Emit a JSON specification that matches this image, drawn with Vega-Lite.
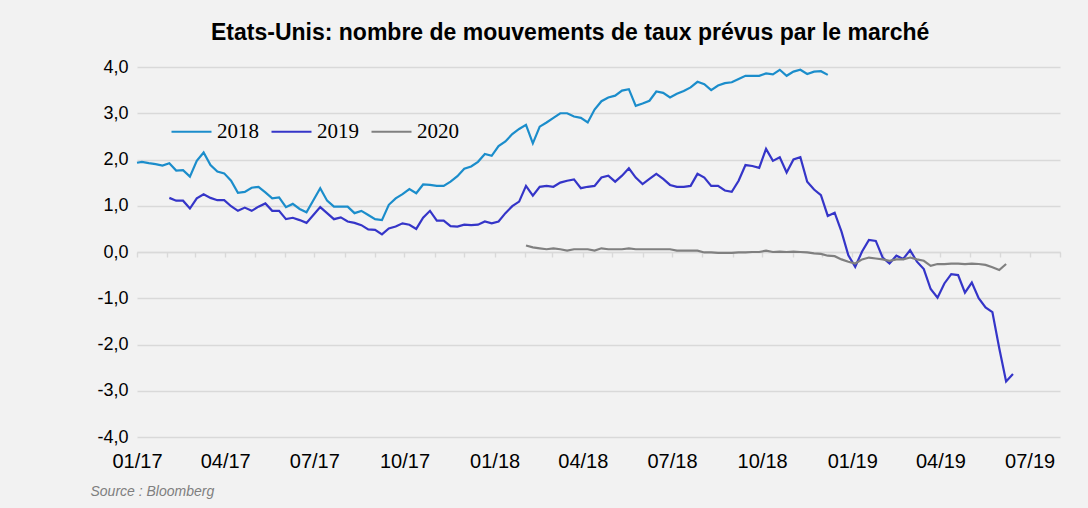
{
  "$schema": "https://vega.github.io/schema/vega-lite/v6.json",
  "width": 923,
  "height": 370,
  "autosize": "none",
  "padding": {"left": 137, "top": 67, "right": 28, "bottom": 71},
  "background": "#f2f2f2",
  "config": {
    "view": {"stroke": null},
    "font": "Liberation Sans",
    "axis": {"labelFont": "Liberation Sans", "labelColor": "#000000", "titleFont": "Liberation Sans"}
  },
  "title": {
    "text": "Etats-Unis: nombre de mouvements de taux prévus par le marché",
    "font": "Liberation Sans",
    "fontSize": 23,
    "fontWeight": "bold",
    "color": "#000000",
    "anchor": "start",
    "frame": "group",
    "dx": 74,
    "offset": 13
  },
  "data": {
    "values": [
      {"date": "2017-01-01", "value": 1.93, "series": "2018"},
      {"date": "2017-01-06", "value": 1.95, "series": "2018"},
      {"date": "2017-01-13", "value": 1.92, "series": "2018"},
      {"date": "2017-01-20", "value": 1.90, "series": "2018"},
      {"date": "2017-01-27", "value": 1.87, "series": "2018"},
      {"date": "2017-02-03", "value": 1.92, "series": "2018"},
      {"date": "2017-02-10", "value": 1.76, "series": "2018"},
      {"date": "2017-02-17", "value": 1.77, "series": "2018"},
      {"date": "2017-02-24", "value": 1.63, "series": "2018"},
      {"date": "2017-03-03", "value": 1.97, "series": "2018"},
      {"date": "2017-03-10", "value": 2.15, "series": "2018"},
      {"date": "2017-03-17", "value": 1.88, "series": "2018"},
      {"date": "2017-03-24", "value": 1.74, "series": "2018"},
      {"date": "2017-03-31", "value": 1.70, "series": "2018"},
      {"date": "2017-04-07", "value": 1.54, "series": "2018"},
      {"date": "2017-04-14", "value": 1.28, "series": "2018"},
      {"date": "2017-04-21", "value": 1.30, "series": "2018"},
      {"date": "2017-04-28", "value": 1.39, "series": "2018"},
      {"date": "2017-05-05", "value": 1.41, "series": "2018"},
      {"date": "2017-05-12", "value": 1.29, "series": "2018"},
      {"date": "2017-05-19", "value": 1.16, "series": "2018"},
      {"date": "2017-05-26", "value": 1.18, "series": "2018"},
      {"date": "2017-06-02", "value": 0.97, "series": "2018"},
      {"date": "2017-06-09", "value": 1.04, "series": "2018"},
      {"date": "2017-06-16", "value": 0.93, "series": "2018"},
      {"date": "2017-06-23", "value": 0.86, "series": "2018"},
      {"date": "2017-06-30", "value": 1.12, "series": "2018"},
      {"date": "2017-07-07", "value": 1.38, "series": "2018"},
      {"date": "2017-07-14", "value": 1.11, "series": "2018"},
      {"date": "2017-07-21", "value": 0.98, "series": "2018"},
      {"date": "2017-07-28", "value": 0.98, "series": "2018"},
      {"date": "2017-08-04", "value": 0.98, "series": "2018"},
      {"date": "2017-08-11", "value": 0.84, "series": "2018"},
      {"date": "2017-08-18", "value": 0.89, "series": "2018"},
      {"date": "2017-08-25", "value": 0.80, "series": "2018"},
      {"date": "2017-09-01", "value": 0.71, "series": "2018"},
      {"date": "2017-09-08", "value": 0.69, "series": "2018"},
      {"date": "2017-09-15", "value": 1.02, "series": "2018"},
      {"date": "2017-09-22", "value": 1.16, "series": "2018"},
      {"date": "2017-09-29", "value": 1.25, "series": "2018"},
      {"date": "2017-10-06", "value": 1.36, "series": "2018"},
      {"date": "2017-10-13", "value": 1.27, "series": "2018"},
      {"date": "2017-10-20", "value": 1.46, "series": "2018"},
      {"date": "2017-10-27", "value": 1.45, "series": "2018"},
      {"date": "2017-11-03", "value": 1.43, "series": "2018"},
      {"date": "2017-11-10", "value": 1.43, "series": "2018"},
      {"date": "2017-11-17", "value": 1.52, "series": "2018"},
      {"date": "2017-11-24", "value": 1.64, "series": "2018"},
      {"date": "2017-12-01", "value": 1.80, "series": "2018"},
      {"date": "2017-12-08", "value": 1.85, "series": "2018"},
      {"date": "2017-12-15", "value": 1.95, "series": "2018"},
      {"date": "2017-12-22", "value": 2.12, "series": "2018"},
      {"date": "2017-12-29", "value": 2.08, "series": "2018"},
      {"date": "2018-01-05", "value": 2.29, "series": "2018"},
      {"date": "2018-01-12", "value": 2.39, "series": "2018"},
      {"date": "2018-01-19", "value": 2.55, "series": "2018"},
      {"date": "2018-01-26", "value": 2.66, "series": "2018"},
      {"date": "2018-02-02", "value": 2.75, "series": "2018"},
      {"date": "2018-02-09", "value": 2.35, "series": "2018"},
      {"date": "2018-02-16", "value": 2.71, "series": "2018"},
      {"date": "2018-02-23", "value": 2.80, "series": "2018"},
      {"date": "2018-03-02", "value": 2.90, "series": "2018"},
      {"date": "2018-03-09", "value": 3.00, "series": "2018"},
      {"date": "2018-03-16", "value": 3.00, "series": "2018"},
      {"date": "2018-03-23", "value": 2.93, "series": "2018"},
      {"date": "2018-03-30", "value": 2.90, "series": "2018"},
      {"date": "2018-04-06", "value": 2.80, "series": "2018"},
      {"date": "2018-04-13", "value": 3.08, "series": "2018"},
      {"date": "2018-04-20", "value": 3.26, "series": "2018"},
      {"date": "2018-04-27", "value": 3.34, "series": "2018"},
      {"date": "2018-05-04", "value": 3.38, "series": "2018"},
      {"date": "2018-05-11", "value": 3.49, "series": "2018"},
      {"date": "2018-05-18", "value": 3.52, "series": "2018"},
      {"date": "2018-05-25", "value": 3.16, "series": "2018"},
      {"date": "2018-06-01", "value": 3.21, "series": "2018"},
      {"date": "2018-06-08", "value": 3.27, "series": "2018"},
      {"date": "2018-06-15", "value": 3.47, "series": "2018"},
      {"date": "2018-06-22", "value": 3.44, "series": "2018"},
      {"date": "2018-06-29", "value": 3.34, "series": "2018"},
      {"date": "2018-07-06", "value": 3.42, "series": "2018"},
      {"date": "2018-07-13", "value": 3.48, "series": "2018"},
      {"date": "2018-07-20", "value": 3.56, "series": "2018"},
      {"date": "2018-07-27", "value": 3.68, "series": "2018"},
      {"date": "2018-08-03", "value": 3.63, "series": "2018"},
      {"date": "2018-08-10", "value": 3.50, "series": "2018"},
      {"date": "2018-08-17", "value": 3.60, "series": "2018"},
      {"date": "2018-08-24", "value": 3.65, "series": "2018"},
      {"date": "2018-08-31", "value": 3.67, "series": "2018"},
      {"date": "2018-09-07", "value": 3.74, "series": "2018"},
      {"date": "2018-09-14", "value": 3.81, "series": "2018"},
      {"date": "2018-09-21", "value": 3.81, "series": "2018"},
      {"date": "2018-09-28", "value": 3.81, "series": "2018"},
      {"date": "2018-10-05", "value": 3.86, "series": "2018"},
      {"date": "2018-10-12", "value": 3.84, "series": "2018"},
      {"date": "2018-10-19", "value": 3.94, "series": "2018"},
      {"date": "2018-10-26", "value": 3.81, "series": "2018"},
      {"date": "2018-11-02", "value": 3.90, "series": "2018"},
      {"date": "2018-11-09", "value": 3.94, "series": "2018"},
      {"date": "2018-11-16", "value": 3.85, "series": "2018"},
      {"date": "2018-11-23", "value": 3.90, "series": "2018"},
      {"date": "2018-11-30", "value": 3.91, "series": "2018"},
      {"date": "2018-12-07", "value": 3.83, "series": "2018"},

      {"date": "2017-02-03", "value": 1.17, "series": "2019"},
      {"date": "2017-02-10", "value": 1.11, "series": "2019"},
      {"date": "2017-02-17", "value": 1.11, "series": "2019"},
      {"date": "2017-02-24", "value": 0.94, "series": "2019"},
      {"date": "2017-03-03", "value": 1.16, "series": "2019"},
      {"date": "2017-03-10", "value": 1.25, "series": "2019"},
      {"date": "2017-03-17", "value": 1.17, "series": "2019"},
      {"date": "2017-03-24", "value": 1.12, "series": "2019"},
      {"date": "2017-03-31", "value": 1.12, "series": "2019"},
      {"date": "2017-04-07", "value": 0.99, "series": "2019"},
      {"date": "2017-04-14", "value": 0.89, "series": "2019"},
      {"date": "2017-04-21", "value": 0.96, "series": "2019"},
      {"date": "2017-04-28", "value": 0.89, "series": "2019"},
      {"date": "2017-05-05", "value": 0.98, "series": "2019"},
      {"date": "2017-05-12", "value": 1.05, "series": "2019"},
      {"date": "2017-05-19", "value": 0.89, "series": "2019"},
      {"date": "2017-05-26", "value": 0.89, "series": "2019"},
      {"date": "2017-06-02", "value": 0.71, "series": "2019"},
      {"date": "2017-06-09", "value": 0.74, "series": "2019"},
      {"date": "2017-06-16", "value": 0.69, "series": "2019"},
      {"date": "2017-06-23", "value": 0.63, "series": "2019"},
      {"date": "2017-06-30", "value": 0.80, "series": "2019"},
      {"date": "2017-07-07", "value": 0.97, "series": "2019"},
      {"date": "2017-07-14", "value": 0.84, "series": "2019"},
      {"date": "2017-07-21", "value": 0.71, "series": "2019"},
      {"date": "2017-07-28", "value": 0.75, "series": "2019"},
      {"date": "2017-08-04", "value": 0.66, "series": "2019"},
      {"date": "2017-08-11", "value": 0.63, "series": "2019"},
      {"date": "2017-08-18", "value": 0.58, "series": "2019"},
      {"date": "2017-08-25", "value": 0.49, "series": "2019"},
      {"date": "2017-09-01", "value": 0.48, "series": "2019"},
      {"date": "2017-09-08", "value": 0.38, "series": "2019"},
      {"date": "2017-09-15", "value": 0.51, "series": "2019"},
      {"date": "2017-09-22", "value": 0.55, "series": "2019"},
      {"date": "2017-09-29", "value": 0.62, "series": "2019"},
      {"date": "2017-10-06", "value": 0.59, "series": "2019"},
      {"date": "2017-10-13", "value": 0.50, "series": "2019"},
      {"date": "2017-10-20", "value": 0.74, "series": "2019"},
      {"date": "2017-10-27", "value": 0.89, "series": "2019"},
      {"date": "2017-11-03", "value": 0.68, "series": "2019"},
      {"date": "2017-11-10", "value": 0.68, "series": "2019"},
      {"date": "2017-11-17", "value": 0.56, "series": "2019"},
      {"date": "2017-11-24", "value": 0.55, "series": "2019"},
      {"date": "2017-12-01", "value": 0.59, "series": "2019"},
      {"date": "2017-12-08", "value": 0.58, "series": "2019"},
      {"date": "2017-12-15", "value": 0.59, "series": "2019"},
      {"date": "2017-12-22", "value": 0.66, "series": "2019"},
      {"date": "2017-12-29", "value": 0.62, "series": "2019"},
      {"date": "2018-01-05", "value": 0.66, "series": "2019"},
      {"date": "2018-01-12", "value": 0.84, "series": "2019"},
      {"date": "2018-01-19", "value": 0.99, "series": "2019"},
      {"date": "2018-01-26", "value": 1.09, "series": "2019"},
      {"date": "2018-02-02", "value": 1.43, "series": "2019"},
      {"date": "2018-02-09", "value": 1.22, "series": "2019"},
      {"date": "2018-02-16", "value": 1.41, "series": "2019"},
      {"date": "2018-02-23", "value": 1.43, "series": "2019"},
      {"date": "2018-03-02", "value": 1.41, "series": "2019"},
      {"date": "2018-03-09", "value": 1.50, "series": "2019"},
      {"date": "2018-03-16", "value": 1.54, "series": "2019"},
      {"date": "2018-03-23", "value": 1.57, "series": "2019"},
      {"date": "2018-03-30", "value": 1.38, "series": "2019"},
      {"date": "2018-04-06", "value": 1.41, "series": "2019"},
      {"date": "2018-04-13", "value": 1.43, "series": "2019"},
      {"date": "2018-04-20", "value": 1.61, "series": "2019"},
      {"date": "2018-04-27", "value": 1.65, "series": "2019"},
      {"date": "2018-05-04", "value": 1.52, "series": "2019"},
      {"date": "2018-05-11", "value": 1.65, "series": "2019"},
      {"date": "2018-05-18", "value": 1.81, "series": "2019"},
      {"date": "2018-05-25", "value": 1.61, "series": "2019"},
      {"date": "2018-06-01", "value": 1.47, "series": "2019"},
      {"date": "2018-06-08", "value": 1.58, "series": "2019"},
      {"date": "2018-06-15", "value": 1.69, "series": "2019"},
      {"date": "2018-06-22", "value": 1.58, "series": "2019"},
      {"date": "2018-06-29", "value": 1.45, "series": "2019"},
      {"date": "2018-07-06", "value": 1.41, "series": "2019"},
      {"date": "2018-07-13", "value": 1.41, "series": "2019"},
      {"date": "2018-07-20", "value": 1.43, "series": "2019"},
      {"date": "2018-07-27", "value": 1.69, "series": "2019"},
      {"date": "2018-08-03", "value": 1.61, "series": "2019"},
      {"date": "2018-08-10", "value": 1.43, "series": "2019"},
      {"date": "2018-08-17", "value": 1.43, "series": "2019"},
      {"date": "2018-08-24", "value": 1.33, "series": "2019"},
      {"date": "2018-08-31", "value": 1.30, "series": "2019"},
      {"date": "2018-09-07", "value": 1.54, "series": "2019"},
      {"date": "2018-09-14", "value": 1.88, "series": "2019"},
      {"date": "2018-09-21", "value": 1.86, "series": "2019"},
      {"date": "2018-09-28", "value": 1.82, "series": "2019"},
      {"date": "2018-10-05", "value": 2.23, "series": "2019"},
      {"date": "2018-10-12", "value": 1.97, "series": "2019"},
      {"date": "2018-10-19", "value": 2.05, "series": "2019"},
      {"date": "2018-10-26", "value": 1.72, "series": "2019"},
      {"date": "2018-11-02", "value": 2.00, "series": "2019"},
      {"date": "2018-11-09", "value": 2.05, "series": "2019"},
      {"date": "2018-11-16", "value": 1.52, "series": "2019"},
      {"date": "2018-11-23", "value": 1.35, "series": "2019"},
      {"date": "2018-11-30", "value": 1.23, "series": "2019"},
      {"date": "2018-12-07", "value": 0.78, "series": "2019"},
      {"date": "2018-12-14", "value": 0.85, "series": "2019"},
      {"date": "2018-12-21", "value": 0.44, "series": "2019"},
      {"date": "2018-12-28", "value": -0.07, "series": "2019"},
      {"date": "2019-01-04", "value": -0.32, "series": "2019"},
      {"date": "2019-01-11", "value": 0.01, "series": "2019"},
      {"date": "2019-01-18", "value": 0.26, "series": "2019"},
      {"date": "2019-01-25", "value": 0.24, "series": "2019"},
      {"date": "2019-02-01", "value": -0.12, "series": "2019"},
      {"date": "2019-02-08", "value": -0.25, "series": "2019"},
      {"date": "2019-02-15", "value": -0.08, "series": "2019"},
      {"date": "2019-02-22", "value": -0.15, "series": "2019"},
      {"date": "2019-03-01", "value": 0.04, "series": "2019"},
      {"date": "2019-03-08", "value": -0.21, "series": "2019"},
      {"date": "2019-03-15", "value": -0.37, "series": "2019"},
      {"date": "2019-03-22", "value": -0.80, "series": "2019"},
      {"date": "2019-03-29", "value": -0.99, "series": "2019"},
      {"date": "2019-04-05", "value": -0.68, "series": "2019"},
      {"date": "2019-04-12", "value": -0.48, "series": "2019"},
      {"date": "2019-04-19", "value": -0.50, "series": "2019"},
      {"date": "2019-04-26", "value": -0.88, "series": "2019"},
      {"date": "2019-05-03", "value": -0.66, "series": "2019"},
      {"date": "2019-05-10", "value": -1.00, "series": "2019"},
      {"date": "2019-05-17", "value": -1.20, "series": "2019"},
      {"date": "2019-05-24", "value": -1.30, "series": "2019"},
      {"date": "2019-05-31", "value": -2.08, "series": "2019"},
      {"date": "2019-06-07", "value": -2.80, "series": "2019"},
      {"date": "2019-06-14", "value": -2.64, "series": "2019"},

      {"date": "2018-02-02", "value": 0.14, "series": "2020"},
      {"date": "2018-02-09", "value": 0.10, "series": "2020"},
      {"date": "2018-02-16", "value": 0.08, "series": "2020"},
      {"date": "2018-02-23", "value": 0.06, "series": "2020"},
      {"date": "2018-03-02", "value": 0.08, "series": "2020"},
      {"date": "2018-03-09", "value": 0.06, "series": "2020"},
      {"date": "2018-03-16", "value": 0.03, "series": "2020"},
      {"date": "2018-03-23", "value": 0.06, "series": "2020"},
      {"date": "2018-03-30", "value": 0.06, "series": "2020"},
      {"date": "2018-04-06", "value": 0.06, "series": "2020"},
      {"date": "2018-04-13", "value": 0.03, "series": "2020"},
      {"date": "2018-04-20", "value": 0.08, "series": "2020"},
      {"date": "2018-04-27", "value": 0.06, "series": "2020"},
      {"date": "2018-05-04", "value": 0.06, "series": "2020"},
      {"date": "2018-05-11", "value": 0.06, "series": "2020"},
      {"date": "2018-05-18", "value": 0.08, "series": "2020"},
      {"date": "2018-05-25", "value": 0.06, "series": "2020"},
      {"date": "2018-06-01", "value": 0.06, "series": "2020"},
      {"date": "2018-06-08", "value": 0.06, "series": "2020"},
      {"date": "2018-06-15", "value": 0.06, "series": "2020"},
      {"date": "2018-06-22", "value": 0.06, "series": "2020"},
      {"date": "2018-06-29", "value": 0.06, "series": "2020"},
      {"date": "2018-07-06", "value": 0.03, "series": "2020"},
      {"date": "2018-07-13", "value": 0.03, "series": "2020"},
      {"date": "2018-07-20", "value": 0.03, "series": "2020"},
      {"date": "2018-07-27", "value": 0.03, "series": "2020"},
      {"date": "2018-08-03", "value": -0.01, "series": "2020"},
      {"date": "2018-08-10", "value": -0.01, "series": "2020"},
      {"date": "2018-08-17", "value": -0.02, "series": "2020"},
      {"date": "2018-08-24", "value": -0.02, "series": "2020"},
      {"date": "2018-08-31", "value": -0.02, "series": "2020"},
      {"date": "2018-09-07", "value": -0.01, "series": "2020"},
      {"date": "2018-09-14", "value": -0.01, "series": "2020"},
      {"date": "2018-09-21", "value": 0.00, "series": "2020"},
      {"date": "2018-09-28", "value": 0.00, "series": "2020"},
      {"date": "2018-10-05", "value": 0.03, "series": "2020"},
      {"date": "2018-10-12", "value": 0.00, "series": "2020"},
      {"date": "2018-10-19", "value": 0.01, "series": "2020"},
      {"date": "2018-10-26", "value": 0.00, "series": "2020"},
      {"date": "2018-11-02", "value": 0.01, "series": "2020"},
      {"date": "2018-11-09", "value": 0.00, "series": "2020"},
      {"date": "2018-11-16", "value": -0.01, "series": "2020"},
      {"date": "2018-11-23", "value": -0.03, "series": "2020"},
      {"date": "2018-11-30", "value": -0.04, "series": "2020"},
      {"date": "2018-12-07", "value": -0.08, "series": "2020"},
      {"date": "2018-12-14", "value": -0.09, "series": "2020"},
      {"date": "2018-12-21", "value": -0.16, "series": "2020"},
      {"date": "2018-12-28", "value": -0.21, "series": "2020"},
      {"date": "2019-01-04", "value": -0.25, "series": "2020"},
      {"date": "2019-01-11", "value": -0.16, "series": "2020"},
      {"date": "2019-01-18", "value": -0.12, "series": "2020"},
      {"date": "2019-01-25", "value": -0.14, "series": "2020"},
      {"date": "2019-02-01", "value": -0.16, "series": "2020"},
      {"date": "2019-02-08", "value": -0.19, "series": "2020"},
      {"date": "2019-02-15", "value": -0.16, "series": "2020"},
      {"date": "2019-02-22", "value": -0.16, "series": "2020"},
      {"date": "2019-03-01", "value": -0.12, "series": "2020"},
      {"date": "2019-03-08", "value": -0.16, "series": "2020"},
      {"date": "2019-03-15", "value": -0.19, "series": "2020"},
      {"date": "2019-03-22", "value": -0.30, "series": "2020"},
      {"date": "2019-03-29", "value": -0.26, "series": "2020"},
      {"date": "2019-04-05", "value": -0.26, "series": "2020"},
      {"date": "2019-04-12", "value": -0.25, "series": "2020"},
      {"date": "2019-04-19", "value": -0.25, "series": "2020"},
      {"date": "2019-04-26", "value": -0.26, "series": "2020"},
      {"date": "2019-05-03", "value": -0.25, "series": "2020"},
      {"date": "2019-05-10", "value": -0.26, "series": "2020"},
      {"date": "2019-05-17", "value": -0.28, "series": "2020"},
      {"date": "2019-05-24", "value": -0.33, "series": "2020"},
      {"date": "2019-05-31", "value": -0.39, "series": "2020"},
      {"date": "2019-06-07", "value": -0.26, "series": "2020"}
    ]
  },
  "resolve": {"scale": {"x": "shared"}, "axis": {"x": "independent"}},
  "layer": [
    {
      "transform": [{"filter": "datum.series != '2020'"}],
      "mark": {"type": "line", "strokeWidth": 2.2},
      "encoding": {
        "x": {
          "field": "date",
          "type": "temporal",
          "scale": {"type": "utc", "domain": [{"year": 2017, "month": 1, "date": 1, "utc": true}, {"year": 2019, "month": 8, "date": 1, "utc": true}]},
          "axis": {
            "orient": "bottom",
            "grid": false,
            "domain": false,
            "ticks": false,
            "format": "%m/%y",
            "tickCount": {"interval": "month", "step": 3},
            "labelFontSize": 20,
            "labelPadding": 14,
            "labelColor": "#000000",
            "labelFlush": false,
            "labelOverlap": false,
            "title": "Source : Bloomberg",
            "titleFontSize": 14,
            "titleFontStyle": "italic",
            "titleFontWeight": "normal",
            "titleColor": "#7f7f7f",
            "titleAnchor": "start",
            "titleAlign": "left",
            "titleBaseline": "alphabetic",
            "titleX": -47,
            "titleY": 58
          }
        },
        "y": {
          "field": "value",
          "type": "quantitative",
          "scale": {"domain": [-4, 4], "nice": false, "zero": false},
          "axis": {
            "title": null,
            "values": [-4, -3, -2, -1, 0, 1, 2, 3, 4],
            "labelExpr": "replace(replace(format(datum.value, '.1f'), '.', ','), '\u2212', '-')",
            "grid": true,
            "gridColor": "#d9d9d9",
            "gridWidth": 1.4,
            "domain": false,
            "ticks": false,
            "labelFontSize": 18,
            "labelPadding": 9,
            "labelColor": "#000000"
          }
        },
        "color": {
          "field": "series",
          "type": "nominal",
          "scale": {"domain": ["2018", "2019", "2020"], "range": ["#1b8dcb", "#3535c8", "#808080"]},
          "legend": {
            "title": null,
            "orient": "none",
            "legendX": 33,
            "legendY": 43,
            "direction": "horizontal",
            "symbolType": "stroke",
            "symbolSize": 1600,
            "symbolStrokeWidth": 2.2,
            "labelFont": "Liberation Serif",
            "labelFontSize": 21,
            "labelColor": "#000000",
            "columnPadding": 8,
            "labelOffset": 4
          }
        }
      }
    },
    {
      "transform": [{"filter": "datum.series == '2020'"}],
      "mark": {"type": "line", "strokeWidth": 2.2},
      "encoding": {
        "x": {
          "field": "date",
          "type": "temporal",
          "axis": {
            "orient": "bottom",
            "offset": -185,
            "grid": false,
            "labels": false,
            "domain": true,
            "domainColor": "#d9d9d9",
            "domainWidth": 1.4,
            "ticks": true,
            "tickColor": "#d9d9d9",
            "tickWidth": 1.4,
            "tickSize": 5,
            "tickCount": {"interval": "month", "step": 1},
            "title": null
          }
        },
        "y": {
          "field": "value",
          "type": "quantitative",
          "axis": {
            "title": null,
            "values": [-4, -3, -2, -1, 0, 1, 2, 3, 4],
            "labelExpr": "replace(replace(format(datum.value, '.1f'), '.', ','), '\u2212', '-')",
            "grid": true,
            "gridColor": "#d9d9d9",
            "gridWidth": 1.4,
            "domain": false,
            "ticks": false,
            "labelFontSize": 18,
            "labelPadding": 9,
            "labelColor": "#000000"
          }
        },
        "color": {
          "field": "series",
          "type": "nominal",
          "legend": {
            "title": null,
            "orient": "none",
            "legendX": 33,
            "legendY": 43,
            "direction": "horizontal",
            "symbolType": "stroke",
            "symbolSize": 1600,
            "symbolStrokeWidth": 2.2,
            "labelFont": "Liberation Serif",
            "labelFontSize": 21,
            "labelColor": "#000000",
            "columnPadding": 8,
            "labelOffset": 4
          }
        }
      }
    }
  ]
}
